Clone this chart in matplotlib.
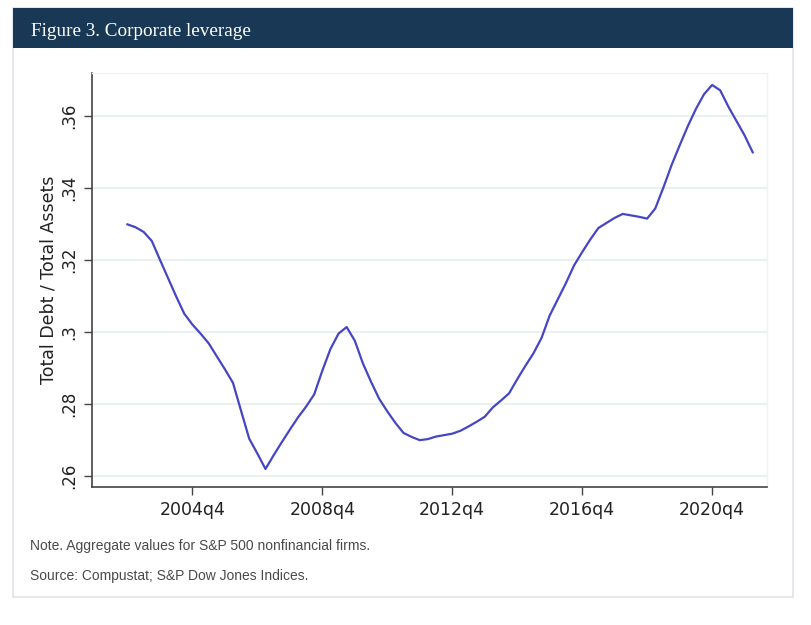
import matplotlib
matplotlib.use("Agg")
import matplotlib.pyplot as plt
from matplotlib.patches import Rectangle
import numpy as np
import pandas as pd

# quarterly aggregate leverage, 2002q4 - 2022q1
quarters = pd.period_range("2002Q4", "2022Q1", freq="Q")
leverage = [
    0.3298, 0.3290, 0.3277, 0.3252, 0.3200, 0.3149, 0.3098, 0.3050,
    0.3020, 0.2995, 0.2968, 0.2932, 0.2896, 0.2858, 0.2780, 0.2703,
    0.2662, 0.2619, 0.2657, 0.2693, 0.2728, 0.2762, 0.2792, 0.2826,
    0.2892, 0.2952, 0.2995, 0.3013, 0.2975, 0.2912, 0.2861, 0.2814,
    0.2779, 0.2747, 0.2719, 0.2708, 0.2699, 0.2702, 0.2709, 0.2713,
    0.2717, 0.2725, 0.2737, 0.2750, 0.2764, 0.2790, 0.2809, 0.2829,
    0.2868, 0.2905, 0.2940, 0.2983, 0.3045, 0.3090, 0.3135, 0.3184,
    0.3221, 0.3256, 0.3288, 0.3302, 0.3316, 0.3327, 0.3323, 0.3319,
    0.3314, 0.3342, 0.3400, 0.3462, 0.3517, 0.3570, 0.3618, 0.3659,
    0.3685, 0.3670, 0.3625, 0.3585, 0.3545, 0.3498,
]
tick_quarters = ["2004q4", "2008q4", "2012q4", "2016q4", "2020q4"]
y_ticks = [0.26, 0.28, 0.30, 0.32, 0.34, 0.36]
y_labels = [".26", ".28", ".3", ".32", ".34", ".36"]

labels = [f"{p.year}q{p.quarter}" for p in quarters]
x = np.arange(len(labels))

W, H = 812, 625
fig = plt.figure(figsize=(W / 100, H / 100), dpi=100)
fig.patch.set_facecolor("white")

# card border and title bar
fig.add_artist(Rectangle((13.3 / W, 1 - 597 / H), (792.7 - 13.3) / W, (597 - 8.3) / H,
                         transform=fig.transFigure, facecolor="white",
                         edgecolor="#dfe4ea", lw=1.2, zorder=0))
fig.add_artist(Rectangle((13.3 / W, 1 - 48.3 / H), (792.7 - 13.3) / W, 40 / H,
                         transform=fig.transFigure, facecolor="#183855",
                         edgecolor="none", zorder=1))
fig.text(30.7 / W, 1 - 35.5 / H, "Figure 3. Corporate leverage", color="white",
         family="Liberation Serif", fontsize=13.8, va="baseline", ha="left")

ax = fig.add_axes([91.7 / W, 1 - 487 / H, (766.5 - 91.7) / W, (487 - 72.7) / H])
ax.set_facecolor("white")
ax.plot(x, leverage, color="#4646c4", lw=1.6, zorder=3)

ax.set_xlim(-4.4, 78.7)
ax.set_ylim(0.2569, 0.3719)
ax.set_xticks([labels.index(t) for t in tick_quarters])
ax.set_xticklabels(tick_quarters, fontsize=12.5, color="#222222")
ax.set_yticks(y_ticks)
ax.set_yticklabels(y_labels, fontsize=12, color="#222222", rotation=90, va="center")
ax.set_ylabel("Total Debt / Total Assets", fontsize=12.5, color="#222222", labelpad=2)

ax.grid(axis="y", color="#e9f1f3", lw=1.5, zorder=0)
ax.tick_params(axis="both", length=6, width=1, color="#444444", pad=4)
for side in ["left", "bottom"]:
    ax.spines[side].set_color("#444444")
    ax.spines[side].set_linewidth(1.2)
for side in ["top", "right"]:
    ax.spines[side].set_color("#eef3f5")
    ax.spines[side].set_linewidth(1)

fig.text(30 / W, 1 - 550 / H, "Note. Aggregate values for S&P 500 nonfinancial firms.",
         family="Liberation Sans", fontsize=10, color="#4a4a4a", va="baseline")
fig.text(30 / W, 1 - 580 / H, "Source: Compustat; S&P Dow Jones Indices.",
         family="Liberation Sans", fontsize=10, color="#4a4a4a", va="baseline")

fig.savefig("out.png", dpi=100)
